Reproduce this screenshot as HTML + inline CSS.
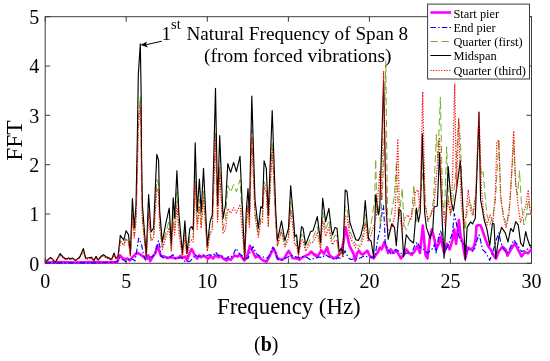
<!DOCTYPE html>
<html><head><meta charset="utf-8"><title>FFT</title>
<style>html,body{margin:0;padding:0;background:#fff;width:550px;height:361px;overflow:hidden}svg{display:block}text{font-family:"Liberation Serif","Times New Roman",serif}</style>
</head><body>
<svg width="550" height="361" viewBox="0 0 550 361">
<rect width="550" height="361" fill="#fff"/>
<defs><clipPath id="c"><rect x="44.5" y="16.7" width="487.5" height="247.6"/></clipPath></defs>
<g stroke="#3c3c3c" stroke-width="1" fill="none">
<rect x="45.2" y="16.7" width="486.3" height="246.6"/>
<line x1="45.2" y1="263.3" x2="50.2" y2="263.3"/>
<line x1="531.5" y1="263.3" x2="526.5" y2="263.3"/>
<line x1="45.2" y1="214.0" x2="50.2" y2="214.0"/>
<line x1="531.5" y1="214.0" x2="526.5" y2="214.0"/>
<line x1="45.2" y1="164.7" x2="50.2" y2="164.7"/>
<line x1="531.5" y1="164.7" x2="526.5" y2="164.7"/>
<line x1="45.2" y1="115.3" x2="50.2" y2="115.3"/>
<line x1="531.5" y1="115.3" x2="526.5" y2="115.3"/>
<line x1="45.2" y1="66.0" x2="50.2" y2="66.0"/>
<line x1="531.5" y1="66.0" x2="526.5" y2="66.0"/>
<line x1="45.2" y1="16.7" x2="50.2" y2="16.7"/>
<line x1="531.5" y1="16.7" x2="526.5" y2="16.7"/>
<line x1="45.2" y1="263.3" x2="45.2" y2="258.3"/>
<line x1="45.2" y1="16.7" x2="45.2" y2="21.7"/>
<line x1="126.2" y1="263.3" x2="126.2" y2="258.3"/>
<line x1="126.2" y1="16.7" x2="126.2" y2="21.7"/>
<line x1="207.3" y1="263.3" x2="207.3" y2="258.3"/>
<line x1="207.3" y1="16.7" x2="207.3" y2="21.7"/>
<line x1="288.4" y1="263.3" x2="288.4" y2="258.3"/>
<line x1="288.4" y1="16.7" x2="288.4" y2="21.7"/>
<line x1="369.4" y1="263.3" x2="369.4" y2="258.3"/>
<line x1="369.4" y1="16.7" x2="369.4" y2="21.7"/>
<line x1="450.4" y1="263.3" x2="450.4" y2="258.3"/>
<line x1="450.4" y1="16.7" x2="450.4" y2="21.7"/>
<line x1="531.5" y1="263.3" x2="531.5" y2="258.3"/>
<line x1="531.5" y1="16.7" x2="531.5" y2="21.7"/>
</g>
<g clip-path="url(#c)" fill="none" stroke-linejoin="round">
<polyline points="45.3,262.5 60,262 75,262.5 90,262 105,262.3 112,262.4 115,262.4 117.5,261.5 120,255.3 122.5,258.2 124.7,259.2 127.3,258.5 129.8,260.5 132.4,257.3 135.5,254.1 137.5,252.8 140.6,254.7 143.2,256.6 145.7,258.5 148.3,255.4 150.2,261.1 152.7,256.6 155.3,253.5 157.2,245.8 159.1,250.9 161,256 164.2,256.6 168,257.9 171.8,257.3 175.6,258.5 179.5,257.3 180,256 182.5,257.9 185,256.6 187,260.5 189.5,253.5 191.5,249 193.4,252.2 195.3,256.6 197.2,258.5 199.1,255.4 201.2,257.3 203.5,255.4 206,257.3 208.6,258.5 210.5,256 213.1,258.5 215.6,255.4 218.2,257.3 220.7,256 223.9,259.2 226.5,260.5 228.4,258.5 230.9,259.8 232.8,257.3 234.7,255.4 237.3,256.6 239.8,254.7 242.4,257.9 244.3,260.5 246.2,258.5 248,253.5 249.9,245.8 251.8,249.6 253.7,253.5 255.6,257.3 258.2,256 260.7,258.5 263.3,260.5 266.5,261.7 268.4,258.5 270.9,253.5 273.5,248.4 275.4,252.2 277.3,257.9 279.8,259.2 282.4,259.8 284.9,257.3 286.8,253.5 288.7,250.9 290.6,254.1 292.5,257.9 295.1,258.5 297.6,258.5 299.5,259.8 301.5,257.9 304,256.6 306.5,255.4 309.1,254.1 311,251.5 312.9,253.5 314.8,255.4 315,254.4 317,257 318.8,254.4 321.4,250.6 324,253.8 327.1,247.4 329,254.4 331.6,257 334.1,258.3 336.7,257 339.2,254.4 341.8,250.6 343.7,240.4 345.6,227 347.5,236.6 349.4,245.5 351.3,249.3 353.3,253.2 355.2,260.8 357.1,253.2 359,250.6 360.9,253.8 362.8,254.4 365.4,252.5 367.3,250.6 369.2,255.1 371.1,257 373.7,258.3 376.2,254.4 378,252.1 379.8,247.5 381.7,249.4 384.4,242 386.2,247.5 388.1,253 390.8,249.4 393.5,253 396.3,250.3 399,254.8 400.9,258.5 403.6,254.8 406.3,249.4 409.1,253 411.8,254.8 414.6,251.2 417.3,245.7 420,253 422.8,225.6 425.5,254.8 427.4,258.5 430.1,236.6 431.9,229.3 434.7,240.2 436,249.4 438.7,243.9 440.6,236.6 442.4,245.7 444.2,253 447,243.9 449.7,249.4 452.5,240.2 454.3,229.3 456.1,243.9 458.9,220.1 460.7,236.6 462.5,242 465.3,258.5 468,247.5 470.7,249.4 473.5,247.5 475.3,242 476.5,226 478.5,225 480.8,225.6 482.4,230.2 485.1,238.4 487.9,245.7 490.6,249.4 494.3,256.7 496.1,258.5 498.9,251.2 502.5,246.6 505.5,249.4 507.4,255.7 510.7,249.9 514.9,243.2 518.2,249.9 521.5,256.5 524.8,252.3 528.2,253.2 531.5,249" stroke="#f0f" stroke-width="2.6"/>
<polyline points="45.3,262.8 70,262.8 100,262.8 112,262.4 117,261.8 119.6,257.3 122.5,259.5 126,261.7 129.8,258.5 133.6,259.8 135,261 136.8,250.3 138.7,238.2 141.3,243.3 143.2,253.5 145.7,261.1 148.9,257.3 152.7,256.6 155.9,250.9 158.5,240.7 159.7,245.8 161,256 164.2,258.5 168,257.9 173.1,254.7 175.6,258.5 179.5,257.9 180,257.3 182.5,258.5 185.1,261.7 187.6,261.7 190.2,261.1 192.7,258.5 195.3,254.7 197.8,256.6 201,256 205.5,256 209.3,254.7 213.1,255.4 215.6,252.2 218.2,255.4 220.7,254.7 223.9,257.9 226.5,258.5 228.4,256.6 230.9,257.3 233.5,254.1 236,248.4 237.9,251.5 239.8,254.1 242.4,256 244.3,259.8 246.8,257.9 248,258.5 249.9,252.8 253.1,246.5 255,250.9 256.9,254.1 259.5,256 261.4,256.6 264.5,257.3 267.7,257.9 270.3,253.5 272.8,247.1 275.4,251.5 277.3,259.2 279.8,260.5 283.6,259.2 287.5,257.3 291.3,255.4 295.1,256.6 298.9,257.9 302.7,256.6 306.5,257.3 310.4,259.8 314.2,258.5 315,258.3 318.8,257 322.6,257.6 325.2,254.4 327.7,256.3 331.6,258.3 335.4,259.5 337.9,257.6 340.5,258.3 342.4,257 345,250.6 346.9,255.1 349.4,258.9 352,259.5 354.5,258.3 357.1,258.9 359.6,258.3 362.2,257 364.7,255.7 367.3,257 369.8,257.6 372.4,257 374.9,257 378,238 379.5,232 381.7,214.6 383.5,205.5 384.5,225 385.3,243.9 388.1,249.4 391.7,254.8 395.4,249.4 399,251.2 402.7,254.8 407.2,253 411.8,253 414.6,245.7 417.3,242 420,247.5 423.7,249.4 427.4,253 431.9,249.4 434.7,243.9 436,253 438.7,236.6 440.6,231.1 442.4,236.6 445.1,251.2 448.8,243.9 452.5,232.9 454.3,213.7 456.1,221.9 458.9,236.6 461.6,242 465.3,245.7 468.9,249.4 472.6,251.2 475.3,247.5 477,240 479,234.7 480.5,240 482.4,249.4 486.1,253 489.7,260.3 492.5,253 496.1,240.2 498.9,232.9 500.7,242 503.4,249.4 507,253 509.9,248.2 514,239.9 517.4,244.9 521.5,251.5 526.5,249.9 531.5,246.5" stroke="#0000ff" stroke-width="1.15" stroke-dasharray="5.5 2.2 1.5 2.2"/>
<polyline points="45.3,262.1 50.3,258.2 52.2,259.3 55.4,262.4 60.1,254.7 63.3,257.9 66.1,259.6 68.5,258.6 70.5,259.4 72.4,258.6 75.6,260.8 79.5,258 80,257.3 83.4,250.7 85.7,259.1 88.5,258.6 91.5,258.1 93.9,260.9 96,257.5 98,260.5 100.5,257.8 103.3,256.1 106.2,257.9 108.2,258.6 111.5,260.2 114,254.9 116,259.3 118,257.6 119.7,245.5 120.3,240.5 123.8,244.9 126.1,237.8 128.5,241.2 130.4,256.2 132.4,214.1 134.3,236.5 136,219 137.3,169.6 138.3,120.2 140.3,96.6 141.1,131.6 141.5,177.2 142.4,219 146.3,257.7 148.6,211 151,239.5 153.6,236.3 156.8,179.5 158.6,184 159.6,222.1 162.3,247.1 165.5,233.4 169.2,220.3 171.3,249 173.2,212.5 174.7,228.2 176.9,191.7 179,226 182.4,255.5 184.9,230.6 186.9,255.5 189.9,236.5 191.6,235.2 193.2,237.7 195.2,171.2 197.2,224.2 199.4,199.1 201.2,224.3 203.5,191.1 207.3,250.2 210,232.1 212.3,226.8 215.5,131.5 217.6,219.4 219.7,167.3 223.1,229.2 225.5,218 227.8,185.5 230.6,192.4 233.6,184.6 236.4,191.8 240,179.8 244.7,259.3 246.2,222.6 248,203.5 249.4,224.7 251.8,129.6 255,212.7 258.3,235.4 260.8,218.1 262.4,219.4 264.1,181.6 266.3,187.6 268.3,224.8 272.2,141.7 275.7,220.9 277.4,245.3 281.5,229.5 284.9,245.4 288.5,235.5 290.7,201.8 293.2,225 294.8,242.2 296.5,240.8 298.5,255.3 301.5,234.3 303.1,235.6 305.6,248.8 310.6,238.3 313.1,237.6 317.3,226.5 320.6,246.8 322.7,212 325.6,230.5 328.9,220 331.4,237 332.5,241 335,235.1 337,235.8 339.1,254 341.3,251.5 343,256.3 345.2,205.9 347,207.1 349.9,231.2 352,236.4 355.8,244.9 358.4,245.4 360.9,241.4 363.5,232.5 365.2,214.4 368,238 371,225 374.6,200 375.7,159.1 377,215 378.5,205 380.5,225 383,180 385.8,60.8 387.5,215 390,222 392,210 394.5,195 396.4,161.6 398.5,218 400.5,205 402.3,188.2 404,225 406.5,230 409,222 411.5,215 413.9,184.9 416,222 418.5,210 421,195 423.5,160 425.5,205 428,222 431,215 433.5,200 436.4,134.5 437.8,160 440.4,97 442.5,200 444.5,215 446.7,146.7 448.5,200 451,215 453,200 455.5,175 458.7,117.8 460.7,146.7 462.5,205 465,230 468,205 470,200 473,215 476,195 479,125 481,175 483.1,171.6 485,195 487,215 490,225 493,215 495.5,200 498.8,139.9 501,200 503.5,215 506.5,225 509.9,203 512,170 513.7,140 515.5,185 517.5,195 519.5,170.8 521.5,205 524,225 526.5,215 528.2,200 531.5,215" stroke="#77ac30" stroke-width="1" stroke-dasharray="7.4 3.6"/>
<polyline points="45.3,262 50.3,257.6 52.2,258.8 55.4,262.3 60.1,253.6 63.3,257.2 66.1,259.1 68.5,257.9 70.5,258.8 72.4,257.9 75.6,260.4 79.5,257.2 80,256.4 83.4,248.6 85.7,258.4 88.5,257.8 91.5,257.2 93.9,260.5 96,256.4 98,260 100.5,256.8 103.3,254.7 106.2,256.8 108.2,257.6 111.5,259.6 114,253.1 116,258.4 118,256.4 119.7,241.6 120.3,235.4 123.8,240.2 126.1,230.7 128.5,234.6 130.4,254 132.4,198.6 134.3,228 136,205 137.3,140 138.3,75 140.3,43.9 141.1,90 141.5,150 142.4,205 146.3,255.9 148.6,194.5 151,232 153.6,228 156.8,154.4 158.6,160.5 159.6,210 162.3,242.4 165.5,225 169.2,208 171.3,244.9 173.2,197.8 174.7,218 176.9,170.7 179,215 182.4,253.2 184.9,220.8 186.9,253.2 189.9,228.3 191.6,226.6 193.2,229.9 195.2,142.8 197.2,212 199.4,179 201.2,212 203.5,168.3 207.3,246 210,222 212.3,215 215.5,88.3 217.6,205 219.7,135.5 223.1,218.3 225.5,205 227.8,163.6 230.6,172.4 233.6,162.4 236.4,171.6 240,156.3 244.7,258.2 246.2,212 248,188.5 249.4,215 251.8,96 255,200 258.3,228.3 260.8,206.7 262.4,208.3 264.1,160.8 266.3,168.3 268.3,215 272.2,110.5 275.7,210 277.4,240.7 281.5,220.8 284.9,240.7 288.5,228.3 290.7,185.7 293.2,215 294.8,236.6 296.5,234.9 298.5,253.2 301.5,226.6 303.1,228.3 305.6,244.9 310.6,231.6 313.1,230.7 317.3,216.6 320.6,242.4 322.7,198.2 325.6,221.6 328.9,208.3 331.4,229.9 332.5,234.9 335,227.4 337,228.3 339.1,251.5 341.3,248.2 343,254.4 345.2,190 347,191.5 349.9,222.3 352,228.9 355.8,239.8 358.4,240.4 360.9,235.3 363.5,223.8 365.2,200.6 368.6,239.1 371.1,241 373.7,257.6 375.7,194.8 378.5,215 379.8,207.3 383.6,80.7 386,205 388.1,239.3 391.7,223.8 394.5,227.4 396.3,245.7 399,209.1 400.9,211 403.6,256.7 406.3,234.7 410,240.2 413.6,243 416.4,208 418.5,222 420.3,212 422.3,133.7 424.6,212 426.4,227.4 430.1,238.4 432.8,229.3 434.1,207 437.3,206 439.5,152.5 442.4,224.7 444.1,258.2 446.6,205 448.2,166.6 451,200 453.4,211 456,193 460.3,160.8 462.5,199.8 465.3,260.3 467.1,227.4 470.7,221.9 472.5,224 475.3,218.3 479,112.2 480.6,200 482.4,209.1 484.2,220.1 487,229.3 489.7,245.7 492.5,222.9 494,224 495.7,258.5 498.9,236.6 501.6,227.4 505.3,232.9 508,242 510.7,228.3 513.2,231.6 515.7,221.6 518.2,224.9 520.7,243.2 523.2,246.5 525.7,231.6 527.3,238.2 529.8,245.7 531.5,244.9" stroke="#000" stroke-width="1.15"/>
<polyline points="45.3,262.2 50.3,258.5 52.2,259.5 55.4,262.5 60.1,255.2 63.3,258.2 66.1,259.8 68.5,258.8 70.5,259.6 72.4,258.8 75.6,260.9 79.5,258.3 80,257.6 83.4,251.2 85.7,259.3 88.5,258.8 91.5,258.3 93.9,261 96,257.7 98,260.6 100.5,258 103.3,256.3 106.2,258 108.2,258.7 111.5,260.3 114,255.1 116,259.4 118,257.8 119.7,245.9 120.3,241 123.8,245.5 126.1,238.8 128.5,242.3 130.4,256.6 132.4,216.7 134.3,237.9 136,221.3 137.3,174.5 138.3,127.7 140.3,105.3 141.1,138.5 141.5,181.7 142.4,221.3 146.3,258 148.6,213.8 151,240.9 153.6,238.5 156.8,188.3 158.6,193.4 159.6,227.3 162.3,249.5 165.5,238.5 169.2,227.9 171.3,251.6 173.2,222.1 174.7,235 176.9,205.9 179,233.6 182.4,257.2 184.9,237.8 186.9,257.1 189.9,241.4 191.6,240 193.2,241.8 195.2,184.4 197.2,229.2 199.4,206.2 201.2,228.3 203.5,198.1 207.3,251.3 210,234.5 212.3,229.4 215.5,139.4 217.6,221.8 219.7,171.8 223.1,233 225.5,230 227.8,208.5 230.6,213.3 233.6,207.8 236.4,212.9 240,204.5 244.7,260 246.2,227.9 248,207.2 249.4,227.1 251.8,137.8 255,215.8 258.3,237.1 260.8,220.8 262.4,222.1 264.1,186.4 266.3,192.1 268.3,227.1 272.2,148.7 275.7,223.3 277.4,246.3 281.5,231.7 284.9,246.9 288.5,238.5 290.7,209.3 293.2,230.3 294.8,245.3 296.5,244.3 298.5,256.7 301.5,239.4 303.1,240.6 305.6,251.3 310.6,242.7 313.1,242.1 317.3,232.9 320.6,249.7 322.7,221 325.6,236.2 328.9,227.6 331.4,241.6 332.5,244.8 335,240 337,240.6 339.1,255.6 341.3,253.5 343,257.5 345.2,215.7 347,216.6 349.9,236.7 352,240.9 355.8,248 358.4,248.4 360.9,245.1 363.5,237.6 365.2,222.5 368,242 371,235 374,225 376.5,215 379.8,171.6 381.5,200 383.6,71.6 386.5,225 389,230 392,228 395,215 397.8,139 399.5,215 402,230 405,218 408,215 411,220 413.5,205 415.5,191.6 418,189.9 420,210 422.7,91.8 425,205 428,220 431,215 434,205 436.5,175 439.4,137.4 442.5,205 445,225 448,200 450.5,215 452.5,180 454.7,83.3 456.5,190 458.7,118.7 461,200 463.5,225 466,215 468.2,189.9 470.5,210 473,215 475.5,195 479,112.2 481.5,190 484,215 487,225 490,215 493,222 495.5,190 496.8,142 498.8,139.9 500.5,195 503,215 506,228 509,215 511.5,175 513.7,131 515.5,180 518,205 520.5,222 523,215 526,205 528.2,189.9 530,210 531.5,215" stroke="#f00" stroke-width="1.2" stroke-dasharray="1.2 1.5"/>
</g>
<g font-size="20" fill="#000">
<text x="39.2" y="270.7" text-anchor="end">0</text>
<text x="39.2" y="221.4" text-anchor="end">1</text>
<text x="39.2" y="172.1" text-anchor="end">2</text>
<text x="39.2" y="122.7" text-anchor="end">3</text>
<text x="39.2" y="73.4" text-anchor="end">4</text>
<text x="39.2" y="24.1" text-anchor="end">5</text>
<text x="45.2" y="287.5" text-anchor="middle">0</text>
<text x="126.2" y="287.5" text-anchor="middle">5</text>
<text x="207.3" y="287.5" text-anchor="middle">10</text>
<text x="288.4" y="287.5" text-anchor="middle">15</text>
<text x="369.4" y="287.5" text-anchor="middle">20</text>
<text x="450.4" y="287.5" text-anchor="middle">25</text>
<text x="531.5" y="287.5" text-anchor="middle">30</text>
</g>
<text x="288.8" y="313.8" text-anchor="middle" font-size="22.8">Frequency (Hz)</text>
<text transform="translate(21.6,140.6) rotate(-90)" text-anchor="middle" font-size="23.5">FFT</text>
<g font-size="19.2" fill="#000">
<text x="161.6" y="39.9">1</text>
<text x="171.1" y="29.4" font-size="14.5">st</text>
<text x="186.5" y="39.9">Natural Frequency of Span 8</text>
<text x="204.1" y="61.9" font-size="19.4">(from forced vibrations)</text>
</g>
<line x1="161.8" y1="41.2" x2="145" y2="45" stroke="#000" stroke-width="1"/>
<polygon points="140.4,45.0 147.0,41.4 145.8,44.6 148.2,47.4" fill="#000"/>
<rect x="427.6" y="4.1" width="101.9" height="74.9" fill="#fff" stroke="#3c3c3c" stroke-width="1"/>
<line x1="430.4" y1="12.5" x2="451.2" y2="12.5" stroke="#f0f" stroke-width="2.6"/>
<line x1="430.4" y1="27.5" x2="451.2" y2="27.5" stroke="#0000ff" stroke-width="1" stroke-dasharray="5.5 2.2 1.5 2.2"/>
<line x1="430.4" y1="41.5" x2="451.2" y2="41.5" stroke="#77ac30" stroke-width="1" stroke-dasharray="7.4 3.6"/>
<line x1="430.4" y1="55.5" x2="451.2" y2="55.5" stroke="#000" stroke-width="1"/>
<line x1="430.4" y1="70.5" x2="451.2" y2="70.5" stroke="#f00" stroke-width="1" stroke-dasharray="1.2 1.5"/>
<g font-size="12.4" fill="#000">
<text x="453.4" y="17.5">Start pier</text>
<text x="453.4" y="31.8">End pier</text>
<text x="453.4" y="46.1">Quarter (first)</text>
<text x="453.4" y="60.4">Midspan</text>
<text x="453.4" y="74.7">Quarter (third)</text>
</g>
<text x="254" y="350.5" font-size="20">(<tspan font-weight="bold">b</tspan>)</text>
</svg>
</body></html>
